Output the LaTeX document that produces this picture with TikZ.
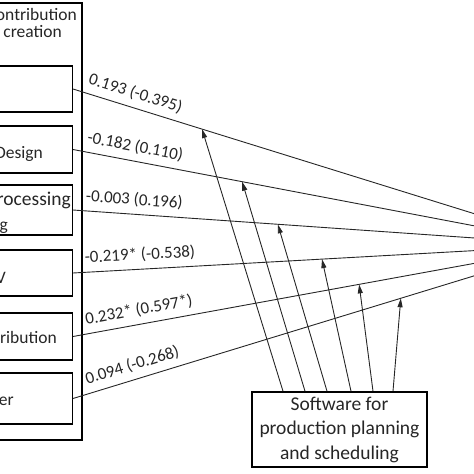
\documentclass[tikz,border=0pt]{standalone}
\usepackage{fontspec}
\setmainfont{Carlito}
\usetikzlibrary{arrows.meta}
\begin{document}
\begin{tikzpicture}[x=1pt,y=-1pt,
  frame/.style={draw=black, line width=1.6pt},
  ibox/.style={draw=black, line width=1.5pt, inner sep=0pt, anchor=east, minimum width=273pt},
  link/.style={draw=black!85, line width=0.9pt},
  modarrow/.style={draw=black!85, line width=0.9pt, -{Triangle[length=9pt,width=5pt]}},
  coef/.style={font=\fontsize{17}{20}\selectfont, text=black!85, sloped, anchor=south west, inner xsep=0pt, inner ysep=7pt, outer sep=0pt},
  boxtext/.style={font=\fontsize{17.5}{21}\selectfont, text=black!85, inner sep=0pt, anchor=base east},
  modbox/.style={draw=black, line width=1.6pt, align=center, text=black!85, minimum width=175pt, minimum height=75pt, inner sep=0pt, font=\fontsize{19.5}{24.5}\selectfont},
]
\useasboundingbox (0,0) rectangle (474,474);
\begin{scope}
\clip (0,0) rectangle (474,474);
\draw[frame] (-200,3) rectangle (82,440);
\node[boxtext] (t1) at (77,20) {ontribution};
\node[boxtext] (t2) at (62,37) {creation};

\node[ibox, minimum height=46pt] (b1) at (73,89) {};
\node[ibox, minimum height=47pt] (b2) at (73,149.5) {};
\node[ibox, minimum height=50pt] (b3) at (73,210) {};
\node[ibox, minimum height=46pt] (b4) at (73,273) {};
\node[ibox, minimum height=47pt] (b5) at (73,336.5) {};
\node[ibox, minimum height=51pt] (b6) at (73,398.5) {};

\node[boxtext] (l2) at (43,158) {Design};
\node[boxtext, font=\fontsize{19.5}{23}\selectfont] (l3a) at (71,205) {rocessing};
\node[boxtext] (l3b) at (8,230) {g};
\node[boxtext] (l4) at (6,283) {V};
\node[boxtext] (l5) at (57,343) {ribution};
\node[boxtext] (l6) at (14,405) {er};

\coordinate (T) at (575,245);

\draw[link] (b1.east) -- (T) node[coef,pos=0.024] {0.193 (-0.395)};
\draw[link] (b2.east) -- (T) node[coef,pos=0.024] {-0.182 (0.110)};
\draw[link] (b3.east) -- (T) node[coef,pos=0.024] {-0.003 (0.196)};
\draw[link] (b4.east) -- (T) node[coef,pos=0.025] {-0.219* (-0.538)};
\draw[link] (b5.east) -- (T) node[coef,pos=0.030] {0.232* (0.597*)};
\draw[link] (b6.east) -- (T) node[coef,pos=0.034] {0.094 (-0.268)};

\path (b1.east) -- (T) coordinate[pos=0.257] (m1);
\path (b2.east) -- (T) coordinate[pos=0.337] (m2);
\path (b3.east) -- (T) coordinate[pos=0.408] (m3);
\path (b4.east) -- (T) coordinate[pos=0.496] (m4);
\path (b5.east) -- (T) coordinate[pos=0.570] (m5);
\path (b6.east) -- (T) coordinate[pos=0.653] (m6);

\node[modbox] (sw) at (339.5,429.5) {Software for\\production planning\\and scheduling};

\draw[modarrow] ([xshift=-56.5pt]sw.north) -- (m1);
\draw[modarrow] ([xshift=-34.5pt]sw.north) -- (m2);
\draw[modarrow] ([xshift=-12.5pt]sw.north) -- (m3);
\draw[modarrow] ([xshift=11.5pt]sw.north) -- (m4);
\draw[modarrow] ([xshift=33.5pt]sw.north) -- (m5);
\draw[modarrow] ([xshift=53.5pt]sw.north) -- (m6);
\end{scope}
\end{tikzpicture}
\end{document}
